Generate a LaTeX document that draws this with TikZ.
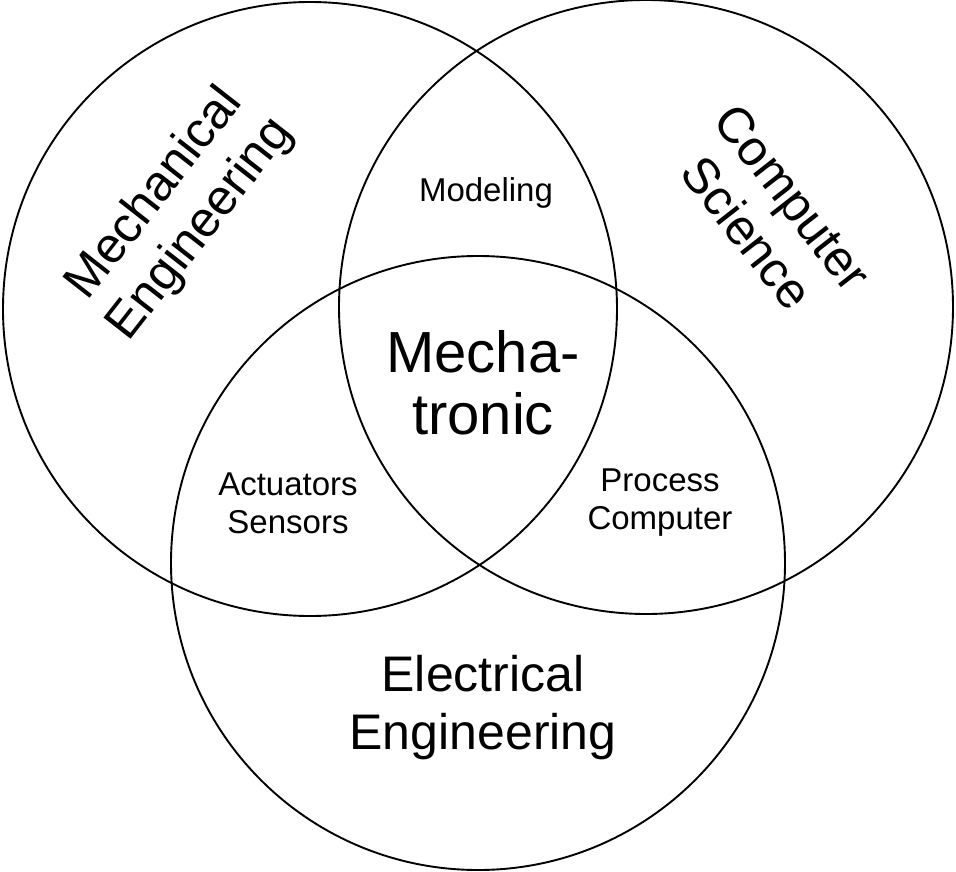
\documentclass[tikz,border=0pt]{standalone}
\usepackage{fontspec}
\setmainfont{Liberation Sans}
\begin{document}
\begin{tikzpicture}[x=1pt,y=-1pt,
  circ/.style={draw=black,line width=1.9pt},
  small/.style={font=\fontsize{33}{38}\selectfont,align=center},
  big/.style={font=\fontsize{50}{58}\selectfont,align=center},
  huge/.style={font=\fontsize{58}{62}\selectfont,align=center}]
\useasboundingbox (0,0) rectangle (956,872);
\draw[circ] (310,309) circle (307);
\draw[circ] (646,307) circle (307);
\draw[circ] (478,563) circle (307);
\node[small] (mod) at (486,193) {Modeling};
\node[small] (act) at (288,503) {Actuators\\Sensors};
\node[small] (pc) at (660,503) {Process\\Computer};
\node[huge] (mec) at (483,383) {Mecha-\\tronic};
\node[big] (ee) at (483,708) {Electrical\\Engineering};
\node[big,rotate=52] (me) at (178,212) {Mechanical\\Engineering};
\node[big,rotate=-52] (cs) at (770,215) {Computer\\Science};
\end{tikzpicture}
\end{document}
